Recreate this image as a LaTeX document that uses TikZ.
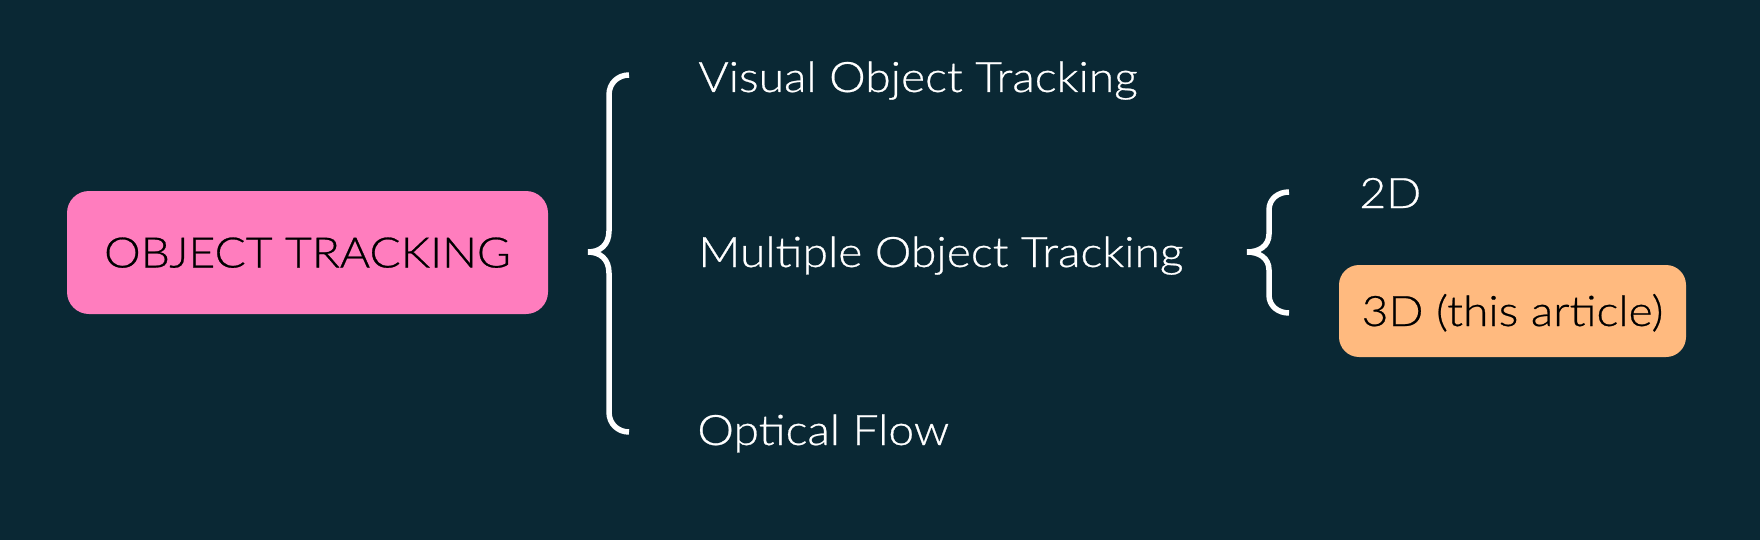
\documentclass[tikz,border=0pt]{standalone}
\usepackage{fontspec}
\setmainfont{Lato}[UprightFont={* Light},FakeStretch=1.1,FakeBold=0.6]
\definecolor{bg}{RGB}{10,40,52}
\definecolor{pinkbox}{RGB}{255,125,190}
\definecolor{orangebox}{RGB}{255,186,127}
\begin{document}
\begin{tikzpicture}[x=0.5pt,y=-0.5pt,
  lbl/.style={anchor=base west,inner sep=0pt,text=white,font=\fontsize{21pt}{25pt}\selectfont},
  boxnode/.style={rounded corners=11pt,inner sep=0pt,text=black,font=\fontsize{21pt}{25pt}\selectfont,text height=15pt,text depth=0pt},
  bracepath/.style={draw=white,line width=2.75pt}]
\fill[bg] (0,0) rectangle (1760,540);
\useasboundingbox (0,0) rectangle (1760,540);
\node[boxnode,fill=pinkbox,minimum width=240.5pt,minimum height=61.5pt] (ot) at (307.5,252.5) {OBJECT TRACKING};
\node[lbl] (vot) at (698,92) {Visual Object Tracking};
\node[lbl] (mot) at (698,267) {Multiple Object Tracking};
\node[lbl] (of) at (697,445) {Optical Flow};
\node[lbl] (twod) at (1359,208) {2D};
\node[boxnode,fill=orangebox,rounded corners=10pt,minimum width=173.5pt,minimum height=46pt] (threed) at (1512.5,311) {3D (this article)};
\draw[bracepath] (629,75) .. controls (618,75) and (609,83) .. (609,95) -- (609,231)
  .. controls (609,245) and (600,252) .. (588,252)
  .. controls (600,252) and (609,259) .. (609,273) -- (609,412)
  .. controls (609,424) and (618,432) .. (629,432);
\draw[bracepath] (1289,192) .. controls (1278,192) and (1269,199) .. (1269,210) -- (1269,234)
  .. controls (1269,246) and (1259,252) .. (1247,252)
  .. controls (1259,252) and (1269,258) .. (1269,270) -- (1269,295)
  .. controls (1269,306) and (1278,313) .. (1289,313);
\end{tikzpicture}
\end{document}
